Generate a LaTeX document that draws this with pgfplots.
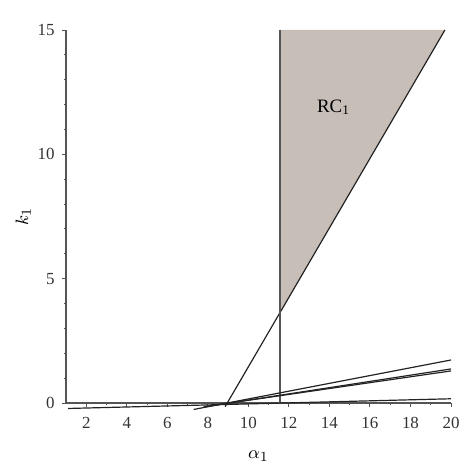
\documentclass[border=0pt]{standalone}
\usepackage{fontspec}
\setmainfont{Liberation Serif}
\usepackage{pgfplots}
\pgfplotsset{compat=1.18}
\definecolor{rcfill}{RGB}{200,190,184}
\definecolor{curve}{RGB}{35,35,35}
\definecolor{axisgray}{RGB}{85,85,85}
\begin{document}
\begin{tikzpicture}
\begin{axis}[
    scale only axis,
    width=192.5bp, height=186.5bp,
    xmin=1, xmax=20, ymin=0, ymax=15,
    axis lines*=left,
    axis line style={axisgray, line width=0.7pt},
    clip=false,
    xtick={2,4,...,20},
    minor xtick={3,5,...,19},
    ytick={0,5,10,15},
    minor ytick={1,2,3,4,6,7,8,9,11,12,13,14},
    tick align=outside,
    major tick length=2.2bp,
    minor tick length=1.2bp,
    tick style={axisgray, line width=0.5pt},
    /pgf/number format/assume math mode=true,
    tick label style={font=\fontsize{8.5}{10}\selectfont, color=black!80},
    xticklabel style={yshift=-1.5bp},
    xlabel={$\alpha_1$}, ylabel={$k_1$},
    label style={font=\fontsize{9.5}{11}\selectfont},
    xlabel style={yshift=-4bp},
    ylabel style={yshift=-3.5bp},
]
% shaded region RC1
\addplot[fill=rcfill, draw=none] coordinates {(11.56,3.63) (11.56,15) (19.7,15)} -- cycle;
% steep boundary
\addplot[curve, line width=0.6pt] coordinates {(8.85,-0.15) (19.7,15)};
% vertical boundary
\addplot[axisgray, line width=0.7pt] coordinates {(11.56,-0.05) (11.56,15)};
% fan of lines
\addplot[curve, line width=0.6pt] coordinates {(7.3,-0.26) (20,1.73)};
\addplot[curve, line width=0.6pt] coordinates {(7.8,-0.16) (20,1.37)};
\addplot[curve, line width=0.6pt] coordinates {(7.8,-0.15) (20,1.29)};
% nearly flat line
\addplot[curve, line width=0.6pt] coordinates {(1.1,-0.22) (20,0.17)};
\node[font=\fontsize{9.5}{11}\selectfont] at (axis cs:14.2,11.9) {RC\textsubscript{1}};
\end{axis}
\path (-33bp,-35.5bp) rectangle (204bp,201.5bp);
\end{tikzpicture}
\end{document}
